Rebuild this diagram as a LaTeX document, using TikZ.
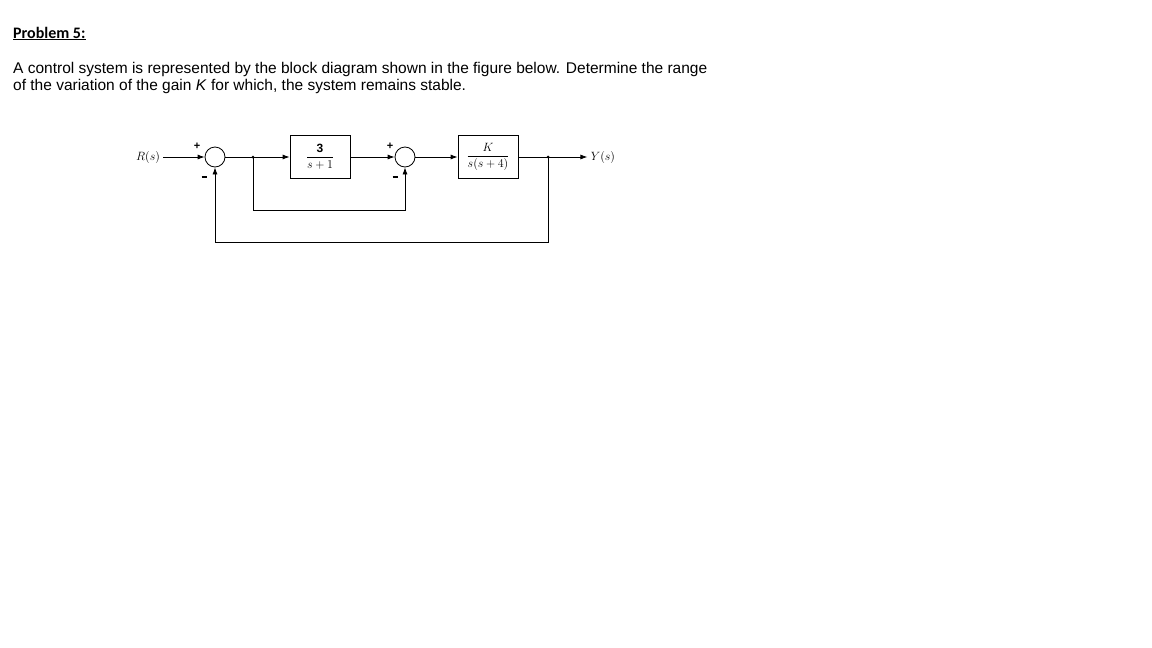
\documentclass[tikz,border=0pt]{standalone}
\usepackage{fontspec}
\setmainfont{Liberation Sans}
\newfontfamily\cali{Carlito}
\newfontfamily\tms{Liberation Serif}
\usetikzlibrary{arrows.meta}
\begin{document}
\begin{tikzpicture}[x=1pt,y=-1pt,
  blk/.style={draw,thick,minimum width=60pt,minimum height=43pt,inner sep=0pt,font=\fontsize{12}{14}\selectfont},
  sumj/.style={draw,thick,circle,minimum size=20pt,inner sep=0pt},
  sig/.style={thick,-{Latex[length=7pt,width=5pt]}},
  ln/.style={thick},
  lbl/.style={font=\fontsize{12}{14}\selectfont},
  sgn/.style={font=\bfseries\fontsize{11}{12}\selectfont}]
\useasboundingbox (0,0) rectangle (1152,648);
\node[anchor=base west,inner sep=0pt,font=\cali\bfseries\fontsize{16}{19}\selectfont] (title) at (13,38) {\underline{Problem 5:}};
\node[anchor=north west,align=left,inner sep=0pt,font=\fontsize{15.5}{17.5}\selectfont] (txt) at (13,62)
 {A control system is represented by the block diagram shown in the figure below. Determine the range\\of the variation of the gain \textit{K} for which, the system remains stable.};
\node[lbl] (R) at (148,157) {$R(s)$};
\node[sumj] (s1) at (215,157) {};
\node[blk] (b1) at (320,157) {$\displaystyle\frac{\mathbf{3}}{s+1}$};
\node[sumj] (s2) at (405,157) {};
\node[blk] (b2) at (488,157) {$\displaystyle\frac{K}{s(s+4)}$};
\node[lbl] (Y) at (603,157) {$Y(s)$};
\coordinate (p1) at (253,157);
\coordinate (p2) at (548,157);
\coordinate (q1) at (253,210);
\coordinate (q2) at (405,210);
\coordinate (o1) at (548,242);
\coordinate (o2) at (215,242);
\draw[sig] (R) -- (s1);
\draw[ln] (s1) -- (p1);
\draw[sig] (p1) -- (b1);
\draw[sig] (b1) -- (s2);
\draw[sig] (s2) -- (b2);
\draw[ln] (b2) -- (p2);
\draw[sig] (p2) -- (Y);
\draw[sig] (p1) -- (q1) -- (q2) -- (s2);
\draw[sig] (p2) -- (o1) -- (o2) -- (s1);
\fill (p1) circle (1.5pt) (p2) circle (1.5pt);
\node[sgn] (pl1) at (197,146) {+};
\node[sgn] (mi1) at (204,177) {\rule{5pt}{1.4pt}};
\node[sgn] (pl2) at (390,146) {+};
\node[sgn] (mi2) at (395,177) {\rule{5pt}{1.4pt}};
\end{tikzpicture}
\end{document}
